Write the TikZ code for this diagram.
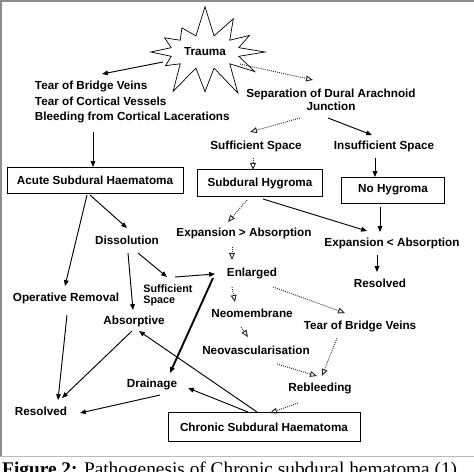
\documentclass[tikz,border=0pt]{standalone}
\usepackage{fontspec}
\setmainfont{Liberation Sans}
\newfontfamily\capfont{Liberation Serif}
\usetikzlibrary{arrows.meta, calc, shapes.symbols, shadows}
\definecolor{frame_gray}{RGB}{140,140,140}
\definecolor{dot_gray}{RGB}{40,40,40}

\begin{document}
\begin{tikzpicture}[x=0.03cm, y=-0.03cm,
    font=\fontsize{10}{12}\selectfont\bfseries,
    lbl/.style={inner sep=1.5pt},
    box/.style={draw, line width=0.6pt, fill=white,
      drop shadow={shadow xshift=0.7pt, shadow yshift=-0.7pt, opacity=0.8, fill=black!70}},
    arr/.style={line width=0.8pt, -{Triangle[length=5pt, width=4pt]}},
    darr/.style={dot_gray, line width=0.8pt, densely dotted,
      -{Triangle[open, length=6pt, width=5pt]}}]
  \useasboundingbox (0,0) rectangle (474,471);
  % frame
  \draw[frame_gray, line width=1.5pt] (1,456) -- (1,1) -- (474,1);
  \draw[frame_gray!60, line width=0.8pt] (0,456) -- (474,456);
  % top
  \node[starburst, draw, line width=0.6pt, starburst points=12,
    starburst point height=0.95cm, random starburst=7,
    minimum width=3.05cm, minimum height=2.9cm] (trauma) at (205,52) {Trauma};
  \node[lbl, align=left, anchor=west, font=\fontsize{10}{13.2}\selectfont\bfseries]
    (bleed) at (33,102) {Tear of Bridge Veins\\Tear of Cortical Vessels\\Bleeding from Cortical Lacerations};
  \node[lbl, align=center, font=\fontsize{10}{11.1}\selectfont\bfseries]
    (sep) at (331,100) {Separation of Dural Arachnoid\\Junction};
  \node[box, minimum width=5.28cm, minimum height=0.78cm] (acute) at (95,180) {Acute Subdural Haematoma};
  \node[lbl] (suff) at (256,146) {Sufficient Space};
  \node[lbl] (insuff) at (384,146) {Insufficient Space};
  \node[box, minimum width=3.75cm, minimum height=0.81cm] (hygroma) at (260,183) {Subdural Hygroma};
  \node[box, minimum width=3.09cm, minimum height=0.78cm] (nohyg) at (393,190) {No Hygroma};
  % middle
  \node[lbl] (expgt) at (244,233) {Expansion > Absorption};
  \node[lbl] (explt) at (392,243) {Expansion < Absorption};
  \node[lbl] (dissol) at (127,240) {Dissolution};
  \node[lbl] (enlarged) at (252,273) {Enlarged};
  \node[lbl] (resolvedR) at (380,283) {Resolved};
  \node[lbl, align=left, font=\fontsize{9.2}{9.4}\selectfont\bfseries] (suffL) at (168,295) {Sufficient\\Space};
  \node[lbl] (operative) at (66,298) {Operative Removal};
  \node[lbl] (neomem) at (252,313) {Neomembrane};
  \node[lbl] (absorptive) at (134,321) {Absorptive};
  \node[lbl] (tearR) at (360,326) {Tear of Bridge Veins};
  \node[lbl] (neovasc) at (256,350) {Neovascularisation};
  % bottom
  \node[lbl] (drainage) at (152,384) {Drainage};
  \node[lbl] (rebleed) at (320,388) {Rebleeding};
  \node[lbl] (resolvedL) at (41,411) {Resolved};
  \node[box, minimum width=5.76cm, minimum height=0.87cm] (chronic) at (264,427) {Chronic Subdural Haematoma};
  \node[anchor=base west, inner sep=0, font=\capfont\fontsize{16.5}{18}\selectfont]
    (caption) at (2,475) {\textbf{Figure 2:} Pathogenesis of Chronic subdural hematoma (1)};
  % solid arrows
  \draw[arr] ($(trauma)+(-42,10)$) -- ($(bleed.west)+(69,-28)$);
  \draw[arr] ($(bleed.west)+(60,30)$) -- ($(acute)+(-2,-13)$);
  \draw[arr] ($(sep)+(-3,18)$) -- ($(insuff)+(-12,-11)$);
  \draw[arr] ($(insuff)+(-9,12)$) -- ($(nohyg)+(-18,-13)$);
  \draw[arr] ($(nohyg)+(-13,17)$) -- ($(explt)+(-12,-11)$);
  \draw[arr] ($(hygroma)+(3,16)$) -- ($(explt)+(-25,-12)$);
  \draw[arr] ($(explt)+(-15,12)$) -- ($(resolvedR)+(-3,-11)$);
  \draw[arr] ($(acute)+(-5,15)$) -- ($(dissol)+(0,-12)$);
  \draw[arr] ($(acute)+(-8,15)$) -- ($(operative)+(-1,-12)$);
  \draw[arr] ($(dissol)+(1,13)$) -- ($(absorptive)+(-1,-11)$);
  \draw[arr] ($(dissol)+(11,13)$) -- ($(suffL)+(-1,-18)$);
  \draw[arr] ($(suffL)+(7,-18)$) -- ($(enlarged)+(-37,1)$);
  \draw[arr, line width=1.6pt] ($(enlarged)+(-39,5)$) -- ($(drainage)+(18,-11)$);
  \draw[arr] ($(operative)+(1,17)$) -- ($(resolvedL)+(17,-11)$);
  \draw[arr] ($(absorptive)+(-2,10)$) -- ($(resolvedL)+(21,-13)$);
  \draw[arr] ($(chronic)+(-7,-15)$) -- ($(absorptive)+(5,10)$);
  \draw[arr] ($(chronic)+(-16,-15)$) -- ($(drainage)+(36,4)$);
  \draw[arr] ($(drainage)+(8,11)$) -- ($(resolvedL)+(39,2)$);
  % dotted arrows
  \draw[darr] ($(trauma)+(35,12)$) -- ($(sep)+(-18,-20)$);
  \draw[darr] ($(sep)+(-31,18)$) -- ($(suff)+(-6,-14)$);
  \draw[darr] ($(suff)+(-3,12)$) -- ($(hygroma)+(-7,-13)$);
  \draw[darr] ($(hygroma)+(-13,17)$) -- ($(expgt)+(-16,-11)$);
  \draw[darr] ($(expgt)+(-12,14)$) -- ($(enlarged)+(-20,-13)$);
  \draw[darr] ($(enlarged)+(21,14)$) -- ($(tearR)+(-15,-13)$);
  \draw[darr] ($(enlarged)+(-20,14)$) -- ($(neomem)+(-17,-11)$);
  \draw[darr] ($(neomem)+(-11,14)$) -- ($(neovasc)+(-8,-13)$);
  \draw[darr] ($(tearR)+(-23,12)$) -- ($(rebleed)+(2,-12)$);
  \draw[darr] ($(neovasc)+(21,14)$) -- ($(rebleed)+(-3,-12)$);
  \draw[darr] ($(rebleed)+(-22,15)$) -- ($(chronic)+(6,-14)$);
\end{tikzpicture}
\end{document}
